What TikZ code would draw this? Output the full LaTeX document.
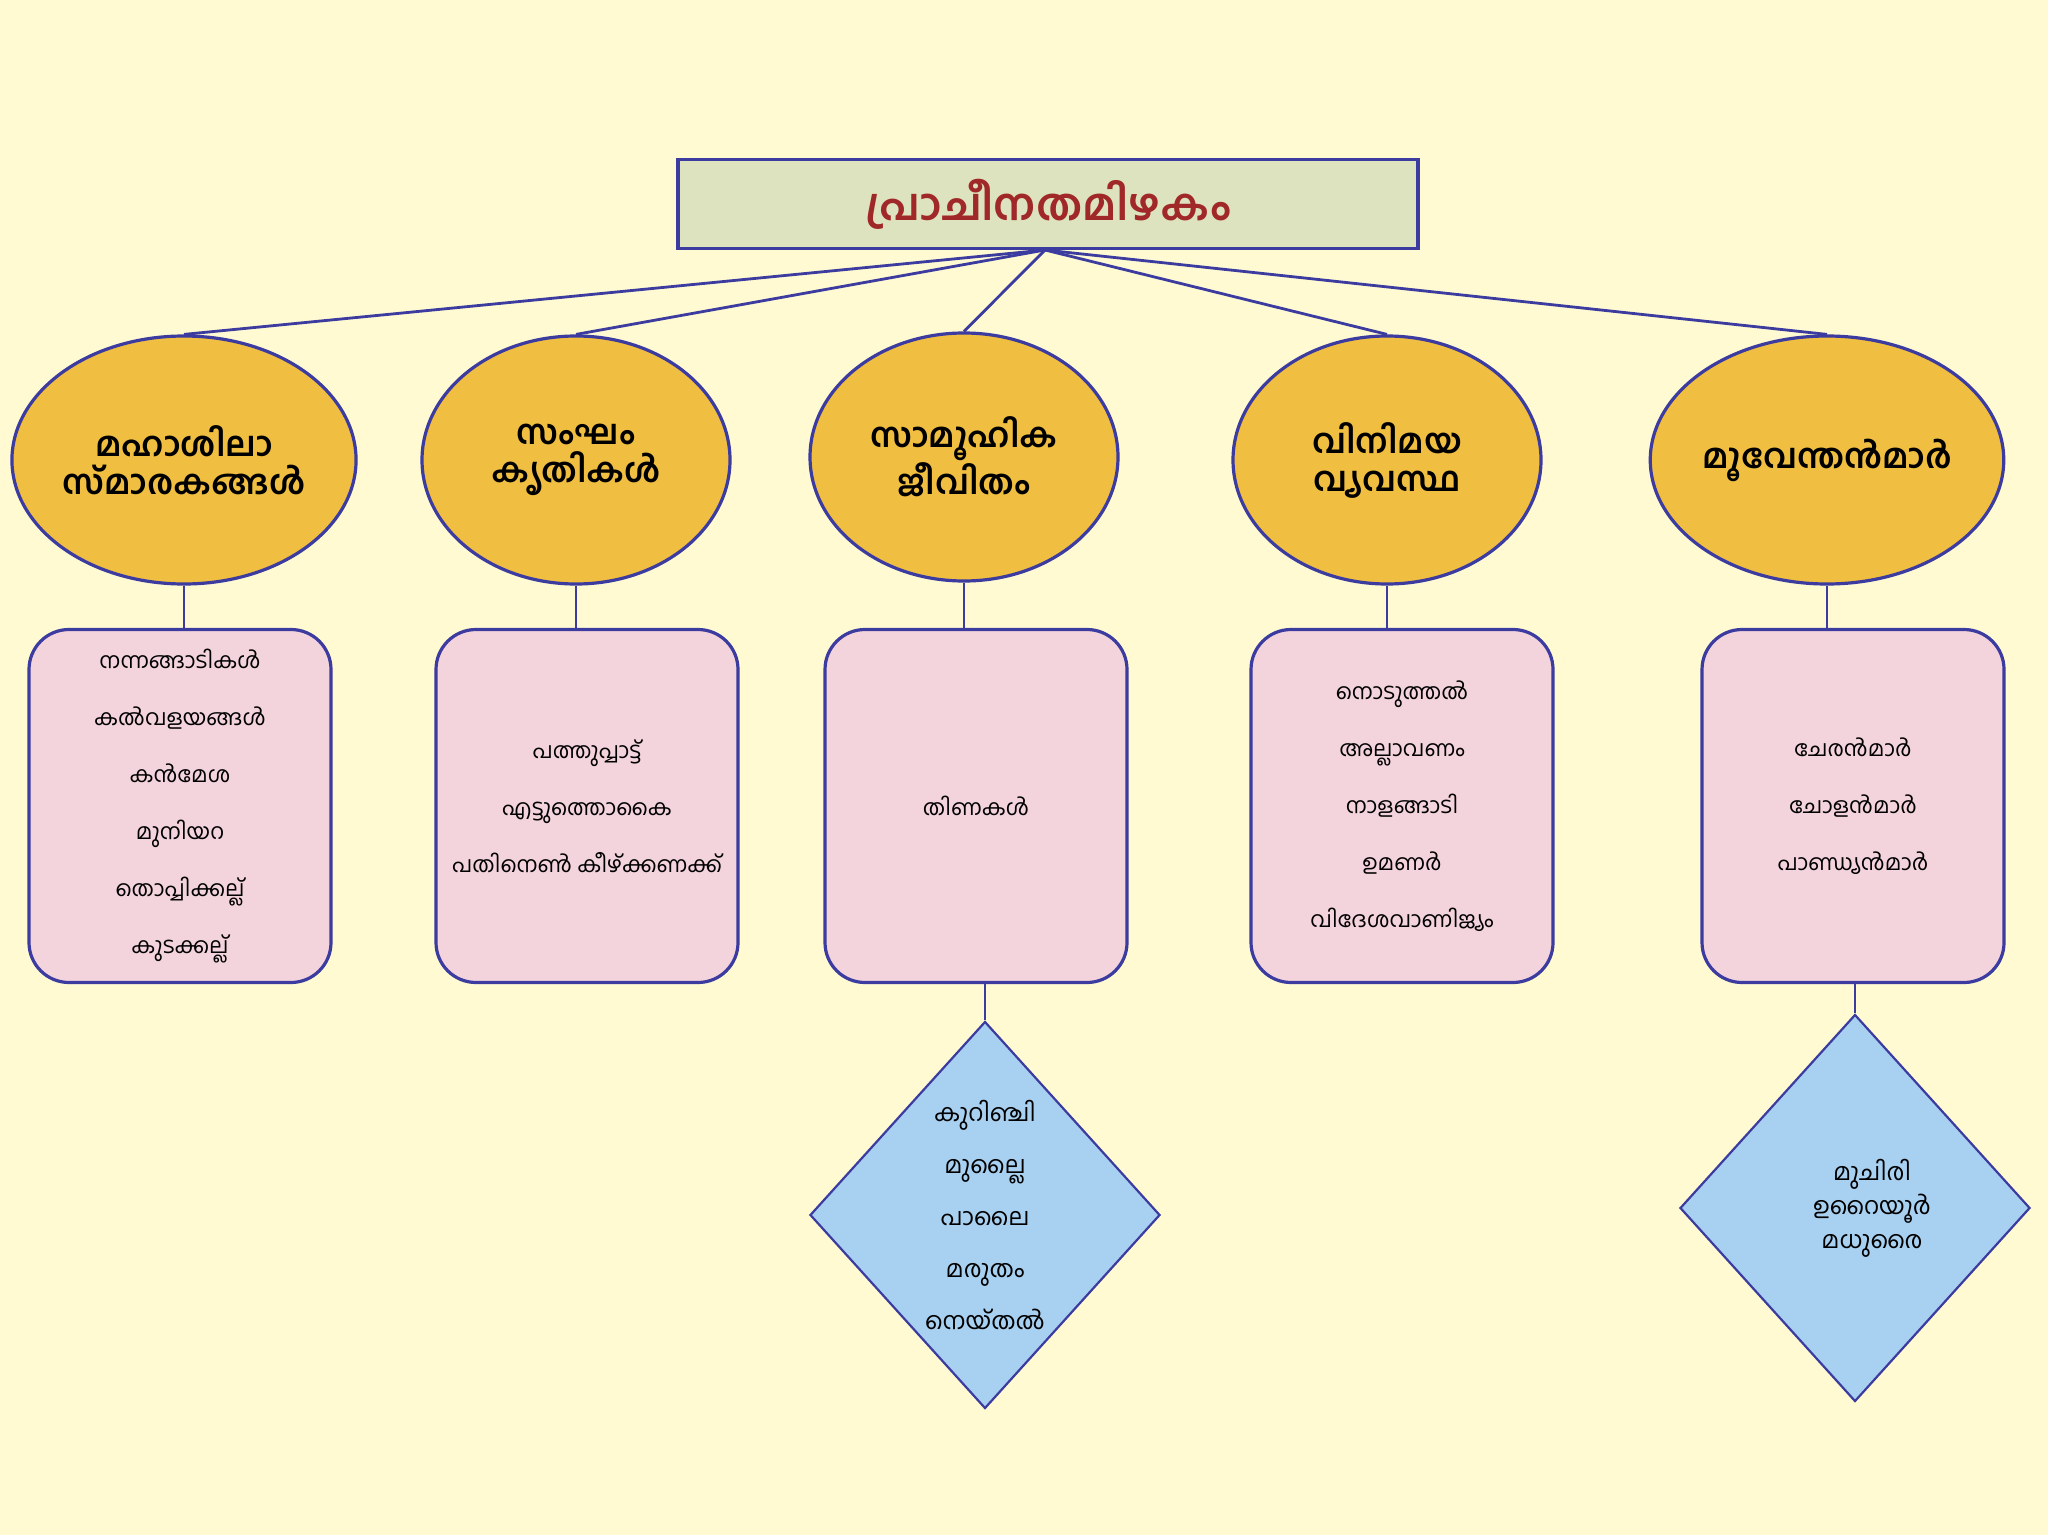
\documentclass[tikz,border=0pt]{standalone}
\usepackage{fontspec}
\newfontfamily\ml[Script=Malayalam]{Hind Kochi}
\usetikzlibrary{shapes.geometric}
\definecolor{bg}{HTML}{FFFAD2}
\definecolor{edge}{HTML}{3C3CA0}
\definecolor{titlefill}{HTML}{DDE3BE}
\definecolor{titletext}{HTML}{A02828}
\definecolor{ellfill}{HTML}{F0BE40}
\definecolor{boxfill}{HTML}{F3D3DC}
\definecolor{diafill}{HTML}{A8D0F0}
\tikzset{
  ell/.style={ellipse,draw=edge,line width=1.6pt,fill=ellfill,minimum width=308*0.5pt,minimum height=248*0.5pt,inner sep=0pt,align=center,font=\ml\bfseries\fontsize{17}{19}\selectfont},
  boxn/.style={rectangle,rounded corners=20pt,draw=edge,line width=1.6pt,fill=boxfill,minimum width=302*0.5pt,minimum height=353*0.5pt,inner sep=0pt},
  dia/.style={diamond,draw=edge,line width=1.1pt,fill=diafill,minimum width=350*0.5pt,minimum height=387*0.5pt,inner sep=0pt},
  txt/.style={align=center,font=\ml\fontsize{11}{28.5}\selectfont},
  con/.style={draw=edge,line width=1.4pt}
}
\begin{document}
\begin{tikzpicture}[x=0.5pt,y=-0.5pt]
\fill[bg] (0,0) rectangle (2048,1535);
\useasboundingbox (0,0) rectangle (2048,1535);
\node[draw=edge,line width=1.8pt,fill=titlefill,minimum width=740*0.5pt,minimum height=89*0.5pt,inner sep=0pt,font=\ml\bfseries\fontsize{22}{24}\selectfont,text=titletext] (t) at (1048,204) {പ്രാചീനതമിഴകം};
\coordinate (tb) at (1045,250);
\node[ell] (e1) at (184,460) {മഹാശിലാ\\സ്മാരകങ്ങൾ};
\node[ell] (e2) at (576,460) {സംഘം\\കൃതികൾ};
\node[ell] (e3) at (964,457) {സാമൂഹിക\\ജീവിതം};
\node[ell] (e4) at (1387,460) {വിനിമയ\\വ്യവസ്ഥ};
\node[ell] (e5) at (1827,460) {മൂവേന്തൻമാർ};
\foreach \e in {e1,e2,e3,e4,e5} \draw[con] (tb) -- (\e.north);
\node[boxn] (b1) at (180,806) {};
\node[boxn] (b2) at (587,806) {};
\node[boxn] (b3) at (976,806) {};
\node[boxn] (b4) at (1402,806) {};
\node[boxn] (b5) at (1853,806) {};
\node[txt] (t1) at (b1) {നന്നങ്ങാടികൾ\\കൽവളയങ്ങൾ\\കൻമേശ\\മുനിയറ\\തൊപ്പിക്കല്ല്\\കുടക്കല്ല്};
\node[txt] (t2) at (b2) {പത്തുപ്പാട്ട്\\എട്ടുത്തൊകൈ\\പതിനെൺ കീഴ്ക്കണക്ക്};
\node[txt] (t3) at (b3) {തിണകൾ};
\node[txt] (t4) at (b4) {നൊടുത്തൽ\\അല്ലാവണം\\നാളങ്ങാടി\\ഉമണർ\\വിദേശവാണിജ്യം};
\node[txt] (t5) at (b5) {ചേരൻമാർ\\ചോളൻമാർ\\പാണ്ഡ്യൻമാർ};
\draw[con] (e1.south) -- (b1.north -| e1.south);
\draw[con] (e2.south) -- (b2.north -| e2.south);
\draw[con] (e3.south) -- (b3.north -| e3.south);
\draw[con] (e4.south) -- (b4.north -| e4.south);
\draw[con] (e5.south) -- (b5.north -| e5.south);
\node[dia] (d1) at (985,1215) {};
\node[dia] (d2) at (1855,1208) {};
\node[txt,font=\ml\fontsize{12}{26}\selectfont] (dt1) at (d1) {കുറിഞ്ചി\\മുല്ലൈ\\പാലൈ\\മരുതം\\നെയ്തൽ};
\node[txt,font=\ml\fontsize{12}{17}\selectfont] (dt2) at (1872,1208) {മുചിരി\\ഉറൈയൂർ\\മധുരൈ};
\draw[con] (b3.south -| d1.north) -- (d1.north);
\draw[con] (b5.south -| d2.north) -- (d2.north);
\end{tikzpicture}
\end{document}
